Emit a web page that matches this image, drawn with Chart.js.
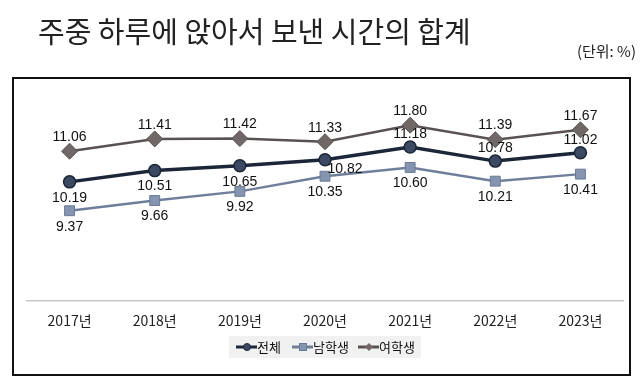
<!DOCTYPE html>
<html><head><meta charset="utf-8">
<script src="https://cdn.jsdelivr.net/npm/chart.js@4/dist/chart.umd.min.js"></script>
<style>
html,body{margin:0;padding:0;background:#fff;}
#wrap{position:relative;width:640px;height:382px;}
</style></head>
<body><div id="wrap"><canvas id="c" width="640" height="382"></canvas></div>
<script>
const categories = ['2017년','2018년','2019년','2020년','2021년','2022년','2023년'];
const totalValues = [10.19, 10.51, 10.65, 10.82, 11.18, 10.78, 11.02];
const maleValues = [9.37, 9.66, 9.92, 10.35, 10.60, 10.21, 10.41];
const femaleValues = [11.06, 11.41, 11.42, 11.33, 11.80, 11.39, 11.67];
const seriesNames = ['전체','남학생','여학생'];
const titleText = '주중 하루에 앉아서 보낸 시간의 합계';
const unitText = '(단위: %)';

const FONT = '"Liberation Sans", Arial, "Noto Sans CJK KR", sans-serif';
const KFONT = '"Noto Sans CJK KR", "Liberation Sans", sans-serif';

// label placement per series: [dx, dy] relative to point
const totalLabelPos = [[0,16],[0,16],[0,16],[20,9],[0,-13],[0,-13],[0,-13]];
const maleLabelPos = [[0,16],[0,16],[0,16],[0,16],[0,16],[0,16],[0,16]];
const femaleLabelPos = [[0,-14],[0,-14],[0,-14],[0,-14],[0,-14],[0,-14],[0,-14]];

const deco = {
  id:'deco',
  beforeDraw(chart){
    const ctx = chart.ctx;
    ctx.save();
    ctx.fillStyle='#fff';ctx.fillRect(0,0,640,382);
    // title
    ctx.fillStyle='#222';
    ctx.font='29px '+KFONT;
    ctx.textBaseline='middle';ctx.textAlign='left';
    ctx.fillText(titleText,38,32);
    ctx.font='15px '+KFONT;
    ctx.textAlign='right';
    ctx.fillText(unitText,636,51);
    // box
    ctx.strokeStyle='#111';ctx.lineWidth=2;
    ctx.strokeRect(13,78,617,297);
    // legend bg
    ctx.fillStyle='#f1f1f1';
    ctx.fillRect(229,336,192,22);
    ctx.restore();
  },
  afterDatasetsDraw(chart){
    const ctx=chart.ctx;
    ctx.save();
    ctx.font='14px '+FONT;
    ctx.fillStyle='#111';
    ctx.textAlign='center';ctx.textBaseline='middle';
    const pos=[totalLabelPos,maleLabelPos,femaleLabelPos];
    chart.data.datasets.forEach((ds,i)=>{
      const meta=chart.getDatasetMeta(i);
      meta.data.forEach((pt,j)=>{
        const p=pos[i][j];
        ctx.fillText(ds.data[j].toFixed(2),pt.x+p[0],pt.y+p[1]);
      });
    });
    // legend
    const items=[{x:247,name:seriesNames[0],ds:0},{x:303,name:seriesNames[1],ds:1},{x:369,name:seriesNames[2],ds:2}];
    items.forEach(it=>{
      const d=chart.data.datasets[it.ds];
      const cy=347;
      ctx.strokeStyle=d.borderColor;ctx.lineWidth=3;
      ctx.beginPath();ctx.moveTo(it.x-11,cy);ctx.lineTo(it.x+10,cy);ctx.stroke();
      ctx.fillStyle=d.pointBackgroundColor;ctx.strokeStyle=d.pointBorderColor;ctx.lineWidth=1;
      if(d.pointStyle==='circle'){ctx.beginPath();ctx.arc(it.x,cy,3.5,0,Math.PI*2);ctx.fill();ctx.stroke();}
      else if(d.pointStyle==='rect'){ctx.fillRect(it.x-3.5,cy-3.5,7,7);ctx.strokeRect(it.x-3.5,cy-3.5,7,7);}
      else {ctx.beginPath();ctx.moveTo(it.x,cy-4);ctx.lineTo(it.x+4,cy);ctx.lineTo(it.x,cy+4);ctx.lineTo(it.x-4,cy);ctx.closePath();ctx.fill();}
      ctx.fillStyle='#111';ctx.font='13px '+KFONT;ctx.textAlign='left';
      ctx.fillText(it.name,it.x+10,cy);
    });
    ctx.restore();
  }
};

new Chart(document.getElementById('c'),{
  type:'line',
  data:{labels:categories,datasets:[
    {label:seriesNames[0],data:totalValues,borderColor:'#1b2638',borderWidth:3.5,pointStyle:'circle',pointRadius:6,
     pointBackgroundColor:'#3b4a62',pointBorderColor:'#1b2638',pointBorderWidth:1.5,tension:0},
    {label:seriesNames[1],data:maleValues,borderColor:'#6f7f9b',borderWidth:2.5,pointStyle:'rect',pointRadius:7,
     pointBackgroundColor:'#8595b0',pointBorderColor:'#6a7a96',pointBorderWidth:1,tension:0},
    {label:seriesNames[2],data:femaleValues,borderColor:'#585252',borderWidth:2.5,pointStyle:'rectRot',pointRadius:8,
     pointBackgroundColor:'#6f6866',pointBorderColor:'#5a5452',pointBorderWidth:1,tension:0}
  ]},
  options:{
    responsive:false,animation:false,
    layout:{padding:{left:27,right:17,top:90,bottom:42}},
    plugins:{legend:{display:false},tooltip:{enabled:false}},
    scales:{
      x:{offset:true,grid:{display:false,drawTicks:false,tickLength:0},border:{display:true,color:'#c8c8c8',width:1.5},
         ticks:{color:'#222',font:{size:14,family:KFONT},padding:11}},
      y:{display:false,min:6.8,max:12.8}
    }
  },
  plugins:[deco]
});
</script></body></html>
